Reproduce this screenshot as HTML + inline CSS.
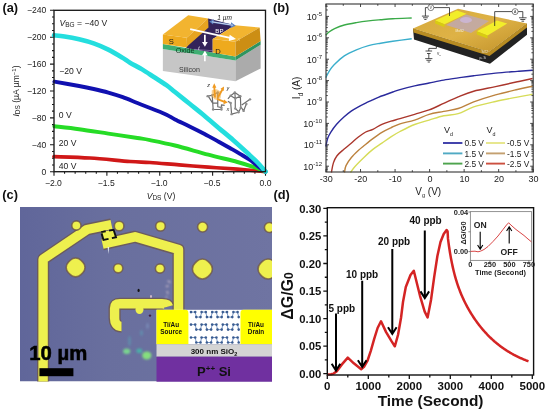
<!DOCTYPE html>
<html><head><meta charset="utf-8"><style>
html,body{margin:0;padding:0;background:#fff;}
body{width:550px;height:412px;overflow:hidden;}
svg{display:block;filter:blur(0.3px);}
text{font-family:"Liberation Sans",Arial,sans-serif;}
.pl{font-size:12.8px;font-weight:bold;fill:#111;}
.ta{font-size:8.6px;fill:#222;}
.tb{font-size:9px;fill:#222;}
.td{font-size:11.3px;font-weight:bold;fill:#111;}
.tbs{font-size:6px;fill:#222;}
.tbl{font-size:10px;fill:#222;}
.td2{font-size:11.5px;font-weight:bold;fill:#111;}
.tdl{font-size:16px;font-weight:bold;fill:#111;}
.tp{font-size:10px;font-weight:bold;fill:#111;}
.ti{font-size:7.4px;font-weight:bold;fill:#222;}
</style></head><body>
<svg width="550" height="412" viewBox="0 0 550 412">
<rect width="550" height="412" fill="#fff"/>
<text x="2.4" y="11.9" class="pl">(a)</text>
<path d="M50.00,171.70H54.00M52.00,164.97H54.00M52.00,158.25H54.00M52.00,151.52H54.00M50.00,144.80H54.00M52.00,138.07H54.00M52.00,131.35H54.00M52.00,124.62H54.00M50.00,117.90H54.00M52.00,111.17H54.00M52.00,104.45H54.00M52.00,97.73H54.00M50.00,91.00H54.00M52.00,84.28H54.00M52.00,77.55H54.00M52.00,70.83H54.00M50.00,64.10H54.00M52.00,57.38H54.00M52.00,50.65H54.00M52.00,43.93H54.00M50.00,37.20H54.00M52.00,30.48H54.00M52.00,23.75H54.00M52.00,17.03H54.00M50.00,10.30H54.00M54.00,171.70V175.70M64.58,171.70V173.70M75.15,171.70V173.70M85.73,171.70V173.70M96.30,171.70V173.70M106.88,171.70V175.70M117.45,171.70V173.70M128.03,171.70V173.70M138.60,171.70V173.70M149.18,171.70V173.70M159.75,171.70V175.70M170.32,171.70V173.70M180.90,171.70V173.70M191.47,171.70V173.70M202.05,171.70V173.70M212.62,171.70V175.70M223.20,171.70V173.70M233.78,171.70V173.70M244.35,171.70V173.70M254.93,171.70V173.70M265.50,171.70V175.70" stroke="#1a1a1a" stroke-width="1.1" fill="none"/>
<path d="M54.00,156.60 C60.00,156.83 77.33,157.18 90.00,158.00 C102.67,158.82 120.00,160.75 130.00,161.50 C140.00,162.25 141.82,161.93 150.00,162.50 C158.18,163.07 169.38,164.12 179.10,164.90 C188.82,165.68 198.58,166.48 208.30,167.20 C218.02,167.92 227.87,168.47 237.40,169.20 C246.93,169.93 260.82,171.20 265.50,171.60" stroke="#d01818" stroke-width="3.7" fill="none" stroke-linecap="round"/>
<path d="M54.40,126.30 C58.52,126.78 70.12,127.98 79.10,129.20 C88.08,130.42 98.58,132.13 108.30,133.60 C118.02,135.07 130.45,136.92 137.40,138.00 C144.35,139.08 143.73,138.85 150.00,140.10 C156.27,141.35 165.28,143.07 175.00,145.50 C184.72,147.93 197.90,151.95 208.30,154.70 C218.70,157.45 229.62,159.87 237.40,162.00 C245.18,164.13 250.32,165.90 255.00,167.50 C259.68,169.10 263.75,170.92 265.50,171.60" stroke="#26dc26" stroke-width="3.9" fill="none" stroke-linecap="round"/>
<path d="M54.40,81.60 C58.52,82.33 72.55,84.77 79.10,86.00 C85.65,87.23 88.83,87.90 93.70,89.00 C98.57,90.10 103.45,91.23 108.30,92.60 C113.15,93.97 117.95,95.47 122.80,97.20 C127.65,98.93 132.53,101.07 137.40,103.00 C142.27,104.93 147.15,106.85 152.00,108.80 C156.85,110.75 162.67,112.92 166.50,114.70 C170.33,116.48 171.15,117.55 175.00,119.50 C178.85,121.45 184.75,124.03 189.60,126.40 C194.45,128.77 199.25,131.15 204.10,133.70 C208.95,136.25 214.33,139.28 218.70,141.70 C223.07,144.12 226.75,146.18 230.30,148.20 C233.85,150.22 236.72,151.83 240.00,153.80 C243.28,155.77 246.57,157.58 250.00,160.00 C253.43,162.42 258.02,166.37 260.60,168.30 C263.18,170.23 264.68,171.05 265.50,171.60" stroke="#1010b0" stroke-width="3.9" fill="none" stroke-linecap="round"/>
<path d="M54.00,35.40 C55.77,35.58 60.42,35.85 64.60,36.50 C68.78,37.15 74.25,38.15 79.10,39.30 C83.95,40.45 88.83,41.68 93.70,43.40 C98.57,45.12 103.45,47.18 108.30,49.60 C113.15,52.02 119.18,55.72 122.80,57.90 C126.42,60.08 126.78,60.78 130.00,62.70 C133.22,64.62 138.05,66.97 142.10,69.40 C146.15,71.83 150.25,74.67 154.30,77.30 C158.35,79.93 162.95,82.75 166.40,85.20 C169.85,87.65 171.13,88.90 175.00,92.00 C178.87,95.10 184.75,99.88 189.60,103.80 C194.45,107.72 199.25,111.48 204.10,115.50 C208.95,119.52 213.83,123.78 218.70,127.90 C223.57,132.02 228.42,135.93 233.30,140.20 C238.18,144.47 243.88,149.70 248.00,153.50 C252.12,157.30 255.08,159.98 258.00,163.00 C260.92,166.02 264.25,170.17 265.50,171.60" stroke="#24dede" stroke-width="4.6" fill="none" stroke-linecap="round"/>
<g transform="translate(160,10) scale(0.19091)">
<path d="M15,204 L395,265 L395,373 L15,320 Z" fill="#c6c6c6"/>
<path d="M395,265 L527,182 L527,306 L395,373 Z" fill="#ababab"/>
<path d="M15,178 L395,243 L395,265 L15,204 Z" fill="#3fae72"/>
<path d="M395,243 L527,163 L527,182 L395,265 Z" fill="#2f9460"/>
<path d="M136,199 L276,223 L276,152 L392,80 L252,44 Z" fill="#33235a"/>
<path d="M15,128 L140,146 L140,197 L15,178 Z" fill="#eeaa1e"/>
<path d="M15,128 L140,146 L252,44 L148,27 Z" fill="#f2b430"/>
<path d="M140,146 L252,44 L254,92 L136,197 Z" fill="#e6a420"/>
<path d="M276,152 L395,166 L395,243 L276,223 Z" fill="#eeaa1e"/>
<path d="M276,152 L395,166 L522,92 L392,80 Z" fill="#f2b430"/>
<path d="M395,166 L522,92 L527,163 L395,243 Z" fill="#cc8e14"/>
<path d="M158,100 L385,150" stroke="#fff" stroke-width="10" fill="none"/>
<path d="M365,130 L398,152 L360,163 Z" fill="#fff"/>
<path d="M235,130 V175" stroke="#fff" stroke-width="9"/><path d="M220,168 L235,192 L250,168 Z" fill="#fff"/>
<path d="M235,268 V232" stroke="#fff" stroke-width="9"/><path d="M220,238 L235,214 L250,238 Z" fill="#fff"/>
<path d="M180,206 L285,214" stroke="#9a8ac0" stroke-width="3"/>
<path d="M272,62 L382,80" stroke="#5b82c4" stroke-width="9" fill="none"/>
<path d="M283,48 L258,60 L278,76 Z M372,64 L397,82 L370,94 Z" fill="#5b82c4"/>
<path d="M272,62 L382,80" stroke="#fff" stroke-width="3.5" fill="none"/>
<text x="300" y="50" font-size="34" font-style="italic" fill="#222">1 µm</text>
<text x="290" y="118" font-size="32" fill="#fff">BP</text>
<text x="405" y="162" font-size="30" font-style="italic" fill="#f0d080">x</text>
<text x="200" y="212" font-size="26" font-style="italic" fill="#fff">t</text>
<text x="46" y="178" font-size="40" fill="#1a1a1a">S</text>
<text x="290" y="232" font-size="40" fill="#1a1a1a">D</text>
<text x="82" y="226" font-size="38" fill="#0e3a20">Oxide</text>
<text x="100" y="325" font-size="37" fill="#3a3a3a">Silicon</text>
</g>
<g transform="translate(203,80) scale(0.09225)">
<path d="M50,175 L100,165 L110,320 L200,320 L200,270 L235,275 M100,165 L160,135 L160,290 L200,300 M60,180 L105,250 L160,250 M270,205 L300,170 L345,135 L405,175 L410,300 L385,350 L310,370 L300,250 L270,230 M300,170 L350,200 L350,310 L390,345 M345,135 L350,200 M405,175 L350,200 M410,290 L440,335 L470,260 M420,270 L510,210" stroke="#6e6e6e" stroke-width="13" fill="none" stroke-linejoin="round"/>
<circle cx="50" cy="175" r="13" fill="#8c8c8c"/><circle cx="100" cy="165" r="13" fill="#8c8c8c"/><circle cx="110" cy="320" r="13" fill="#8c8c8c"/><circle cx="200" cy="320" r="13" fill="#8c8c8c"/><circle cx="160" cy="135" r="13" fill="#8c8c8c"/><circle cx="200" cy="300" r="13" fill="#8c8c8c"/><circle cx="300" cy="170" r="13" fill="#8c8c8c"/><circle cx="345" cy="135" r="13" fill="#8c8c8c"/><circle cx="405" cy="175" r="13" fill="#8c8c8c"/><circle cx="410" cy="300" r="13" fill="#8c8c8c"/><circle cx="385" cy="350" r="13" fill="#8c8c8c"/><circle cx="310" cy="370" r="13" fill="#8c8c8c"/><circle cx="300" cy="250" r="13" fill="#8c8c8c"/><circle cx="350" cy="200" r="13" fill="#8c8c8c"/><circle cx="350" cy="310" r="13" fill="#8c8c8c"/><circle cx="440" cy="335" r="13" fill="#8c8c8c"/><circle cx="510" cy="210" r="13" fill="#8c8c8c"/><circle cx="470" cy="260" r="13" fill="#8c8c8c"/>
<path d="M95,110 L150,100 L200,130 L190,200 L130,215 L95,180 Z" fill="#f0a838" opacity="0.55"/>
<path d="M130,190 L122,70 M160,190 L212,100 M150,205 L240,240" stroke="#f09a20" stroke-width="20" fill="none"/>
<path d="M100,85 L122,35 L145,85 Z M190,95 L228,70 L225,118 Z M228,212 L268,244 L222,262 Z" fill="#f09a20"/>
<text x="45" y="75" font-size="60" font-style="italic" fill="#333">z</text>
<text x="255" y="105" font-size="60" font-style="italic" fill="#333">y</text>
<text x="255" y="335" font-size="60" font-style="italic" fill="#333">x</text>
</g>
<rect x="54.00" y="10.30" width="211.50" height="161.40" fill="none" stroke="#1a1a1a" stroke-width="1.35"/>
<text x="46.3" y="174.70" class="ta" text-anchor="end">0</text>
<text x="46.3" y="147.80" class="ta" text-anchor="end">−40</text>
<text x="46.3" y="120.90" class="ta" text-anchor="end">−80</text>
<text x="46.3" y="94.00" class="ta" text-anchor="end">−120</text>
<text x="46.3" y="67.10" class="ta" text-anchor="end">−160</text>
<text x="46.3" y="40.20" class="ta" text-anchor="end">−200</text>
<text x="46.3" y="13.30" class="ta" text-anchor="end">−240</text>
<text x="53.40" y="185.8" class="ta" text-anchor="middle">−2.0</text>
<text x="106.28" y="185.8" class="ta" text-anchor="middle">−1.5</text>
<text x="159.15" y="185.8" class="ta" text-anchor="middle">−1.0</text>
<text x="212.03" y="185.8" class="ta" text-anchor="middle">−0.5</text>
<text x="265.50" y="185.8" class="ta" text-anchor="middle">0.0</text>
<text x="161" y="198.7" class="ta" text-anchor="middle"><tspan font-style="italic">V</tspan><tspan font-size="6.5" dy="1.6">DS</tspan><tspan dy="-1.6"> (V)</tspan></text>
<text transform="translate(18.6,91) rotate(-90)" class="ta" text-anchor="middle"><tspan font-style="italic">I</tspan><tspan font-size="6.5" dy="1.6">DS</tspan><tspan dy="-1.6"> (µA µm</tspan><tspan font-size="6" dy="-3">−1</tspan><tspan dy="3">)</tspan></text>
<text x="59.5" y="25.6" class="ta"><tspan font-style="italic">V</tspan><tspan font-size="6.5" dy="1.6">BG</tspan><tspan dy="-1.6"> = −40 V</tspan></text>
<text x="59.2" y="74" class="ta">−20 V</text>
<text x="58.8" y="117.7" class="ta">0 V</text>
<text x="58.8" y="146" class="ta">20 V</text>
<text x="58.8" y="168.7" class="ta">40 V</text>
<text x="273" y="11.9" class="pl">(b)</text>
<path d="M326.00,170.95h1.80M533.20,170.95h-1.80M326.00,169.51h1.80M533.20,169.51h-1.80M326.00,168.27h1.80M533.20,168.27h-1.80M326.00,167.18h1.80M533.20,167.18h-1.80M326.00,166.20h3.00M533.20,166.20h-3.00M326.00,159.76h1.80M533.20,159.76h-1.80M326.00,155.99h1.80M533.20,155.99h-1.80M326.00,153.32h1.80M533.20,153.32h-1.80M326.00,151.24h1.80M533.20,151.24h-1.80M326.00,149.55h1.80M533.20,149.55h-1.80M326.00,148.11h1.80M533.20,148.11h-1.80M326.00,146.87h1.80M533.20,146.87h-1.80M326.00,145.78h1.80M533.20,145.78h-1.80M326.00,144.80h3.00M533.20,144.80h-3.00M326.00,138.36h1.80M533.20,138.36h-1.80M326.00,134.59h1.80M533.20,134.59h-1.80M326.00,131.92h1.80M533.20,131.92h-1.80M326.00,129.84h1.80M533.20,129.84h-1.80M326.00,128.15h1.80M533.20,128.15h-1.80M326.00,126.71h1.80M533.20,126.71h-1.80M326.00,125.47h1.80M533.20,125.47h-1.80M326.00,124.38h1.80M533.20,124.38h-1.80M326.00,123.40h3.00M533.20,123.40h-3.00M326.00,116.96h1.80M533.20,116.96h-1.80M326.00,113.19h1.80M533.20,113.19h-1.80M326.00,110.52h1.80M533.20,110.52h-1.80M326.00,108.44h1.80M533.20,108.44h-1.80M326.00,106.75h1.80M533.20,106.75h-1.80M326.00,105.31h1.80M533.20,105.31h-1.80M326.00,104.07h1.80M533.20,104.07h-1.80M326.00,102.98h1.80M533.20,102.98h-1.80M326.00,102.00h3.00M533.20,102.00h-3.00M326.00,95.56h1.80M533.20,95.56h-1.80M326.00,91.79h1.80M533.20,91.79h-1.80M326.00,89.12h1.80M533.20,89.12h-1.80M326.00,87.04h1.80M533.20,87.04h-1.80M326.00,85.35h1.80M533.20,85.35h-1.80M326.00,83.91h1.80M533.20,83.91h-1.80M326.00,82.67h1.80M533.20,82.67h-1.80M326.00,81.58h1.80M533.20,81.58h-1.80M326.00,80.60h3.00M533.20,80.60h-3.00M326.00,74.16h1.80M533.20,74.16h-1.80M326.00,70.39h1.80M533.20,70.39h-1.80M326.00,67.72h1.80M533.20,67.72h-1.80M326.00,65.64h1.80M533.20,65.64h-1.80M326.00,63.95h1.80M533.20,63.95h-1.80M326.00,62.51h1.80M533.20,62.51h-1.80M326.00,61.27h1.80M533.20,61.27h-1.80M326.00,60.18h1.80M533.20,60.18h-1.80M326.00,59.20h3.00M533.20,59.20h-3.00M326.00,52.76h1.80M533.20,52.76h-1.80M326.00,48.99h1.80M533.20,48.99h-1.80M326.00,46.32h1.80M533.20,46.32h-1.80M326.00,44.24h1.80M533.20,44.24h-1.80M326.00,42.55h1.80M533.20,42.55h-1.80M326.00,41.11h1.80M533.20,41.11h-1.80M326.00,39.87h1.80M533.20,39.87h-1.80M326.00,38.78h1.80M533.20,38.78h-1.80M326.00,37.80h3.00M533.20,37.80h-3.00M326.00,31.36h1.80M533.20,31.36h-1.80M326.00,27.59h1.80M533.20,27.59h-1.80M326.00,24.92h1.80M533.20,24.92h-1.80M326.00,22.84h1.80M533.20,22.84h-1.80M326.00,21.15h1.80M533.20,21.15h-1.80M326.00,19.71h1.80M533.20,19.71h-1.80M326.00,18.47h1.80M533.20,18.47h-1.80M326.00,17.38h1.80M533.20,17.38h-1.80M326.00,16.40h3.00M533.20,16.40h-3.00M326.00,9.96h1.80M533.20,9.96h-1.80M326.00,6.19h1.80M533.20,6.19h-1.80M326.00,172.00v-3.00M326.00,4.00v3.00M343.27,172.00v-1.80M343.27,4.00v1.80M360.53,172.00v-3.00M360.53,4.00v3.00M377.80,172.00v-1.80M377.80,4.00v1.80M395.07,172.00v-3.00M395.07,4.00v3.00M412.33,172.00v-1.80M412.33,4.00v1.80M429.60,172.00v-3.00M429.60,4.00v3.00M446.87,172.00v-1.80M446.87,4.00v1.80M464.13,172.00v-3.00M464.13,4.00v3.00M481.40,172.00v-1.80M481.40,4.00v1.80M498.67,172.00v-3.00M498.67,4.00v3.00M515.93,172.00v-1.80M515.93,4.00v1.80M533.20,172.00v-3.00M533.20,4.00v3.00" stroke="#333" stroke-width="0.9" fill="none"/>
<path d="M350.50,172.50 C351.25,171.50 352.77,169.00 355.00,166.50 C357.23,164.00 360.92,160.35 363.90,157.50 C366.88,154.65 369.90,151.80 372.90,149.40 C375.90,147.00 378.90,145.20 381.90,143.10 C384.90,141.00 387.88,138.73 390.90,136.80 C393.92,134.87 396.05,133.55 400.00,131.50 C403.95,129.45 409.75,126.40 414.60,124.50 C419.45,122.60 424.25,121.55 429.10,120.10 C433.95,118.65 438.85,116.88 443.70,115.80 C448.55,114.72 453.20,115.08 458.20,113.60 C463.20,112.12 467.48,108.92 473.70,106.90 C479.92,104.88 488.23,103.13 495.50,101.50 C502.77,99.87 511.12,98.30 517.30,97.10 C523.48,95.90 530.05,94.77 532.60,94.30" stroke="#d6dc58" stroke-width="1.4" fill="none"/>
<path d="M344.50,172.50 C344.75,171.35 344.85,168.10 346.00,165.60 C347.15,163.10 349.32,160.05 351.40,157.50 C353.48,154.95 356.42,152.25 358.50,150.30 C360.58,148.35 361.50,147.75 363.90,145.80 C366.30,143.85 369.90,140.85 372.90,138.60 C375.90,136.35 378.90,134.10 381.90,132.30 C384.90,130.50 387.88,129.22 390.90,127.80 C393.92,126.38 396.05,125.08 400.00,123.80 C403.95,122.52 409.75,121.68 414.60,120.10 C419.45,118.52 424.25,115.75 429.10,114.30 C433.95,112.85 438.85,112.37 443.70,111.40 C448.55,110.43 453.20,110.08 458.20,108.50 C463.20,106.92 467.48,104.17 473.70,101.90 C479.92,99.63 488.23,96.97 495.50,94.90 C502.77,92.83 511.12,90.95 517.30,89.50 C523.48,88.05 530.05,86.75 532.60,86.20" stroke="#bc823e" stroke-width="1.4" fill="none"/>
<path d="M331.40,172.50 C331.73,170.90 332.47,165.70 333.40,162.90 C334.33,160.10 335.25,157.97 337.00,155.70 C338.75,153.43 341.53,151.38 343.90,149.30 C346.27,147.22 348.78,145.25 351.20,143.20 C353.62,141.15 355.98,138.87 358.40,137.00 C360.82,135.13 363.28,133.28 365.70,132.00 C368.12,130.72 370.20,130.58 372.90,129.30 C375.60,128.02 378.90,125.65 381.90,124.30 C384.90,122.95 387.88,122.13 390.90,121.20 C393.92,120.27 396.05,119.85 400.00,118.70 C403.95,117.55 409.75,115.77 414.60,114.30 C419.45,112.83 424.25,111.72 429.10,109.90 C433.95,108.08 438.85,105.58 443.70,103.40 C448.55,101.22 453.20,98.83 458.20,96.80 C463.20,94.77 467.48,92.90 473.70,91.20 C479.92,89.50 488.23,88.17 495.50,86.60 C502.77,85.03 511.12,83.15 517.30,81.80 C523.48,80.45 530.05,79.05 532.60,78.50" stroke="#aa362c" stroke-width="1.4" fill="none"/>
<path d="M325.80,146.50 C326.13,145.10 326.98,140.47 327.80,138.10 C328.62,135.73 329.23,134.60 330.70,132.30 C332.17,130.00 334.40,126.85 336.60,124.30 C338.80,121.75 341.47,119.20 343.90,117.00 C346.33,114.80 348.78,112.80 351.20,111.10 C353.62,109.40 355.98,108.13 358.40,106.80 C360.82,105.47 363.43,104.20 365.70,103.10 C367.97,102.00 369.90,101.17 372.00,100.20 C374.10,99.23 374.83,98.67 378.30,97.30 C381.77,95.93 389.18,93.28 392.80,92.00 C396.42,90.72 396.37,90.62 400.00,89.60 C403.63,88.58 409.75,87.00 414.60,85.90 C419.45,84.80 424.25,83.97 429.10,83.00 C433.95,82.03 438.85,80.95 443.70,80.10 C448.55,79.25 453.20,78.63 458.20,77.90 C463.20,77.17 467.48,76.50 473.70,75.70 C479.92,74.90 488.23,73.82 495.50,73.10 C502.77,72.38 511.12,71.87 517.30,71.40 C523.48,70.93 530.05,70.48 532.60,70.30" stroke="#2a2a9c" stroke-width="1.4" fill="none"/>
<path d="M325.80,77.70 C326.45,76.48 328.23,72.63 329.70,70.40 C331.17,68.17 332.17,66.73 334.60,64.30 C337.03,61.87 340.67,58.22 344.30,55.80 C347.93,53.38 352.37,51.50 356.40,49.80 C360.43,48.10 364.45,46.70 368.50,45.60 C372.55,44.50 376.65,43.92 380.70,43.20 C384.75,42.48 387.63,42.03 392.80,41.30 C397.97,40.57 408.55,39.22 411.70,38.80" stroke="#3aaecc" stroke-width="1.4" fill="none"/>
<path d="M325.80,35.20 C326.33,34.67 327.53,33.10 329.00,32.00 C330.47,30.90 332.05,29.77 334.60,28.60 C337.15,27.43 340.67,26.00 344.30,25.00 C347.93,24.00 352.37,23.28 356.40,22.60 C360.43,21.92 364.45,21.38 368.50,20.90 C372.55,20.42 376.65,20.07 380.70,19.70 C384.75,19.33 387.63,18.98 392.80,18.70 C397.97,18.42 408.55,18.12 411.70,18.00" stroke="#3aaa48" stroke-width="1.4" fill="none"/>
<rect x="326.00" y="4.00" width="207.20" height="168.00" fill="none" stroke="#333" stroke-width="1.1"/>
<text x="322" y="169.50" class="tb" text-anchor="end">10<tspan class="tbs" dy="-3.9">-12</tspan></text>
<text x="322" y="148.10" class="tb" text-anchor="end">10<tspan class="tbs" dy="-3.9">-11</tspan></text>
<text x="322" y="126.70" class="tb" text-anchor="end">10<tspan class="tbs" dy="-3.9">-10</tspan></text>
<text x="322" y="105.30" class="tb" text-anchor="end">10<tspan class="tbs" dy="-3.9">-9</tspan></text>
<text x="322" y="83.90" class="tb" text-anchor="end">10<tspan class="tbs" dy="-3.9">-8</tspan></text>
<text x="322" y="62.50" class="tb" text-anchor="end">10<tspan class="tbs" dy="-3.9">-7</tspan></text>
<text x="322" y="41.10" class="tb" text-anchor="end">10<tspan class="tbs" dy="-3.9">-6</tspan></text>
<text x="322" y="19.70" class="tb" text-anchor="end">10<tspan class="tbs" dy="-3.9">-5</tspan></text>
<text x="326.30" y="181.8" class="tb" text-anchor="middle">-30</text>
<text x="360.83" y="181.8" class="tb" text-anchor="middle">-20</text>
<text x="395.37" y="181.8" class="tb" text-anchor="middle">-10</text>
<text x="429.90" y="181.8" class="tb" text-anchor="middle">0</text>
<text x="464.43" y="181.8" class="tb" text-anchor="middle">10</text>
<text x="498.97" y="181.8" class="tb" text-anchor="middle">20</text>
<text x="533.50" y="181.8" class="tb" text-anchor="middle">30</text>
<text x="415.3" y="194.6" class="tbl">V<tspan font-size="5.6" dy="2.6">g</tspan><tspan dy="-2.6"> (V)</tspan></text>
<text transform="translate(300,87.9) rotate(-90)" class="tbl" text-anchor="middle">I<tspan font-size="6.5" dy="2.5">d</tspan><tspan dy="-2.5"> (A)</tspan></text>
<text x="444" y="133" class="tb">V<tspan font-size="5.3" dy="2.8">d</tspan></text>
<text x="486.4" y="133" class="tb">V<tspan font-size="5.3" dy="2.8">d</tspan></text>
<path d="M443,143.0H462.4" stroke="#3a3aa8" stroke-width="1.9"/>
<text x="464.4" y="146.1" class="tb" style="font-size:8.4px">0.5 V</text>
<path d="M486,143.0H505" stroke="#e6e68a" stroke-width="1.9"/>
<text x="507" y="146.1" class="tb" style="font-size:8.4px">-0.5 V</text>
<path d="M443,153.4H462.4" stroke="#50aac4" stroke-width="1.9"/>
<text x="464.4" y="156.5" class="tb" style="font-size:8.4px">1.5 V</text>
<path d="M486,153.4H505" stroke="#c4a070" stroke-width="1.9"/>
<text x="507" y="156.5" class="tb" style="font-size:8.4px">-1.5 V</text>
<path d="M443,163.6H462.4" stroke="#4ea44e" stroke-width="1.9"/>
<text x="464.4" y="166.7" class="tb" style="font-size:8.4px">2.5 V</text>
<path d="M486,163.6H505" stroke="#cc5040" stroke-width="1.9"/>
<text x="507" y="166.7" class="tb" style="font-size:8.4px">-2.5 V</text>
<defs><linearGradient id="gtop" x1="0" y1="0" x2="1" y2="1"><stop offset="0" stop-color="#d6aa3c"/><stop offset="0.5" stop-color="#deb246"/><stop offset="1" stop-color="#c09028"/></linearGradient><linearGradient id="gside" x1="0" y1="0" x2="0" y2="1"><stop offset="0" stop-color="#3a3a3a"/><stop offset="1" stop-color="#151515"/></linearGradient></defs>
<path d="M413,28.5 L489,52 L527,23.5 L527,34.8 L490,63.8 L414,39.5 Z" fill="#222"/>
<path d="M413,28.5 L489,52 L527,23.5 L527,27.5 L489.5,56 L413.5,32.5 Z" fill="#b88c22"/>
<path d="M413,28.5 L458,8.8 L527,23.5 L489,52 Z" fill="url(#gtop)"/>
<path d="M446,25 L466,14.5 L489,21 L471,33 Z" fill="#b9a6c6" opacity="0.7"/>
<ellipse cx="466" cy="20" rx="6" ry="3" fill="#cdb8dc" opacity="0.8"/>
<path d="M435.2,20.6 L457,10.6 L466.5,13.8 L444.5,24.2 Z" fill="#f2ee2a"/>
<path d="M435.2,20.6 L444.5,24.2 L444.5,27.2 L435.2,23.4 Z" fill="#d8cc10"/>
<path d="M476.8,31.2 L497,20.6 L507.2,23.6 L487.5,35.4 Z" fill="#f2ee2a"/>
<path d="M476.8,31.2 L487.5,35.4 L487.5,38.6 L476.8,34.4 Z" fill="#d8cc10"/>
<text x="455.5" y="31.5" font-size="3.2" fill="#f4f0e0">MoS2</text>
<text x="481.5" y="52.5" font-size="2.8" fill="#f4f0e0">SiO2</text>
<text x="479.5" y="58.5" font-size="2.8" fill="#e0e0e0">p+ Si</text>
<path d="M433.8,7.6H449.5V16 M427.8,7.6H425.4V16.1 M421.9,16.1h7 M423,17.8h4.8 M424.3,19.5h2.2 M512.1,11.6H494.7V26 M518.1,11.6H522.8V17.8 M519,17.8h7.6 M520.3,19.5h5 M521.5,21.2h2.6 M436.4,46 V48.4 H428.8 V51 M425.5,51 h6.6 M427,53.5h3.6 M428.8,53.5V58.6 M425.2,58.6h7.2 M426.4,60.3h4.8 M427.7,62h2.2" stroke="#222" stroke-width="0.8" fill="none"/>
<circle cx="430.8" cy="7.6" r="3" fill="#fff" stroke="#333" stroke-width="0.6"/>
<circle cx="515.1" cy="11.6" r="3" fill="#fff" stroke="#333" stroke-width="0.6"/>
<text x="430.8" y="8.7" font-size="3.2" text-anchor="middle" fill="#222">V</text>
<text x="515.1" y="12.8" font-size="3.4" text-anchor="middle" fill="#222">A</text>
<text x="437" y="55" font-size="3.4" fill="#222">V<tspan font-size="2.4" dy="0.8">g</tspan></text>
<text x="2.3" y="199.2" class="pl">(c)</text>
<defs><clipPath id="cph"><rect x="20" y="207" width="252" height="174.5"/></clipPath></defs>
<g clip-path="url(#cph)">
<linearGradient id="pbg" x1="20" y1="0" x2="272" y2="0" gradientUnits="userSpaceOnUse"><stop offset="0" stop-color="#60669a"/><stop offset="0.35" stop-color="#696f9e"/><stop offset="1" stop-color="#6f74a2"/></linearGradient>
<rect x="20" y="207" width="252" height="174.5" fill="url(#pbg)"/>
<path d="M43.1,390 L43.1,259.2 L87,229.5 L111.5,224.5" stroke="#6e5648" stroke-width="12.2" fill="none" stroke-linejoin="round" opacity="0.75"/>
<path d="M102.5,244.2 L135,236.8 L178.5,249.6 L178.5,312" stroke="#6e5648" stroke-width="12.2" fill="none" stroke-linejoin="round" opacity="0.75"/>
<path d="M121.5,326.5 C116,326.5 114.6,322 114.6,318 L114.6,308.5 C114.6,305 116.5,303.8 120,303.8 L162,303.8 C166,303.8 168,305 168.4,306.5" stroke="#6e5648" stroke-width="12.2" fill="none" stroke-linejoin="round" opacity="0.75"/>
<path d="M43.1,390 L43.1,259.2 L87,229.5 L111.5,224.5" stroke="#eef04e" stroke-width="9.4" fill="none" stroke-linejoin="round"/>
<path d="M102.5,244.2 L135,236.8 L178.5,249.6 L178.5,312" stroke="#eef04e" stroke-width="9.4" fill="none" stroke-linejoin="round"/>
<path d="M121.5,326.5 C116,326.5 114.6,322 114.6,318 L114.6,308.5 C114.6,305 116.5,303.8 120,303.8 L162,303.8 C166,303.8 168,305 168.4,306.5" stroke="#eef04e" stroke-width="9.4" fill="none" stroke-linejoin="round"/>
<ellipse cx="139.5" cy="309.5" rx="4" ry="4.5" fill="#eef04e"/>
<circle cx="76.4" cy="225.5" r="4.6" fill="#eef04e" stroke="#6e5648" stroke-width="1.6" stroke-opacity="0.8"/>
<circle cx="119.1" cy="226.0" r="4.8" fill="#eef04e" stroke="#6e5648" stroke-width="1.6" stroke-opacity="0.8"/>
<circle cx="160.5" cy="226.2" r="4.8" fill="#eef04e" stroke="#6e5648" stroke-width="1.6" stroke-opacity="0.8"/>
<circle cx="202.6" cy="227.0" r="5.0" fill="#eef04e" stroke="#6e5648" stroke-width="1.6" stroke-opacity="0.8"/>
<circle cx="269.4" cy="227.5" r="5.0" fill="#eef04e" stroke="#6e5648" stroke-width="1.6" stroke-opacity="0.8"/>
<circle cx="118.2" cy="268.3" r="4.6" fill="#eef04e" stroke="#6e5648" stroke-width="1.6" stroke-opacity="0.8"/>
<circle cx="160.0" cy="268.5" r="4.6" fill="#eef04e" stroke="#6e5648" stroke-width="1.6" stroke-opacity="0.8"/>
<rect x="66.8" y="258.6" width="17.7" height="17.7" rx="7.5" transform="rotate(45 75.6 267.4)" fill="#eef04e" stroke="#6e5648" stroke-width="1.6" stroke-opacity="0.8"/>
<rect x="193.0" y="259.6" width="18.8" height="18.8" rx="8.0" transform="rotate(45 202.4 269.0)" fill="#eef04e" stroke="#6e5648" stroke-width="1.6" stroke-opacity="0.8"/>
<rect x="258.6" y="259.6" width="18.8" height="18.8" rx="8.0" transform="rotate(45 268.0 269.0)" fill="#eef04e" stroke="#6e5648" stroke-width="1.6" stroke-opacity="0.8"/>
<path d="M101.2,232.1 L113.6,229.8 L116,237.2 L103.5,239.9 Z" fill="#eef04e"/>
<path d="M101.2,232.1 L113.6,229.8 L116,237.2 L103.5,239.9 Z" fill="none" stroke="#111" stroke-width="1.9" stroke-dasharray="4.6 3.4 16.6 3.4 12" stroke-linejoin="miter"/>
<path d="M107.6,247 L108.4,254 L109.2,247 Z" fill="#e8f0f8" opacity="0.9"/>
<filter id="fb" x="-50%" y="-50%" width="200%" height="200%"><feGaussianBlur stdDeviation="0.9"/></filter>
<g filter="url(#fb)">
<ellipse cx="126.7" cy="351.3" rx="3.6" ry="2.8" fill="#7ad88e" opacity="0.95"/>
<ellipse cx="139.3" cy="350.8" rx="3.0" ry="2.4" fill="#48b4a8" opacity="0.90"/>
<ellipse cx="146.8" cy="355.4" rx="4.6" ry="4.0" fill="#86e47c" opacity="0.95"/>
<ellipse cx="129.5" cy="341.0" rx="1.2" ry="5.0" fill="#5aa8b8" opacity="0.55"/>
<ellipse cx="141.5" cy="333.0" rx="1.3" ry="3.0" fill="#5ab0c0" opacity="0.50"/>
<ellipse cx="147.5" cy="326.0" rx="1.0" ry="3.0" fill="#88a8d0" opacity="0.60"/>
</g>
<ellipse cx="138.6" cy="290.4" rx="1.1" ry="1.7" fill="#111"/>
<g filter="url(#fb)" opacity="0.75"><path d="M167.5,281.5 q2,-1 2.5,1.5 M166,286.5 l2.5,-0.5 M167,291 l1,3 M165.8,297 l1.5,0.2" stroke="#e6d2d8" stroke-width="1.3" fill="none"/></g>
<ellipse cx="151" cy="296.5" rx="0.9" ry="1.4" fill="#f0d0d8" opacity="0.8"/>
<circle cx="150" cy="315.6" r="1.2" fill="#402040"/>
</g>
<rect x="39.4" y="368.2" width="34" height="8" fill="#000"/>
<text x="29.3" y="359.8" font-size="19.6" font-weight="bold" fill="#000" stroke="#000" stroke-width="0.5" textLength="58" lengthAdjust="spacingAndGlyphs">10 µm</text>
<rect x="156.5" y="309.8" width="115.5" height="34.5" fill="#fff"/>
<path d="M156.5,309.8 H185.5 Q188.4,309.8 188.4,313 V344.3 H156.5 Z" fill="#ffff00"/>
<path d="M272,309.8 H243.4 Q240.5,309.8 240.5,313 V344.3 H272 Z" fill="#ffff00"/>
<rect x="156.5" y="344.3" width="115.5" height="12.4" fill="#d4d4d4"/>
<rect x="156.5" y="356.7" width="115.5" height="25" fill="#7030a0"/>
<path d="M191.00,312.10 L195.20,312.10 L196.30,317.10 L200.50,317.10 L201.60,312.10 L205.80,312.10 L206.90,317.10 L211.10,317.10 L212.20,312.10 L216.40,312.10 L217.50,317.10 L221.70,317.10 L222.80,312.10 L227.00,312.10 L228.10,317.10 L232.30,317.10 L233.40,312.10 L237.60,312.10 L238.70,317.10 M191.00,324.60 L195.20,324.60 L196.30,329.60 L200.50,329.60 L201.60,324.60 L205.80,324.60 L206.90,329.60 L211.10,329.60 L212.20,324.60 L216.40,324.60 L217.50,329.60 L221.70,329.60 L222.80,324.60 L227.00,324.60 L228.10,329.60 L232.30,329.60 L233.40,324.60 L237.60,324.60 L238.70,329.60 M191.00,337.50 L195.20,337.50 L196.30,342.50 L200.50,342.50 L201.60,337.50 L205.80,337.50 L206.90,342.50 L211.10,342.50 L212.20,337.50 L216.40,337.50 L217.50,342.50 L221.70,342.50 L222.80,337.50 L227.00,337.50 L228.10,342.50 L232.30,342.50 L233.40,337.50 L237.60,337.50 L238.70,342.50" stroke="#6a8cc0" stroke-width="0.9" fill="none"/>
<circle cx="191.0" cy="312.1" r="1.3" fill="#3a5c90"/><circle cx="195.2" cy="312.1" r="1.3" fill="#3a5c90"/><circle cx="196.3" cy="317.1" r="1.3" fill="#3a5c90"/><circle cx="200.5" cy="317.1" r="1.3" fill="#3a5c90"/><circle cx="201.6" cy="312.1" r="1.3" fill="#3a5c90"/><circle cx="205.8" cy="312.1" r="1.3" fill="#3a5c90"/><circle cx="206.9" cy="317.1" r="1.3" fill="#3a5c90"/><circle cx="211.1" cy="317.1" r="1.3" fill="#3a5c90"/><circle cx="212.2" cy="312.1" r="1.3" fill="#3a5c90"/><circle cx="216.4" cy="312.1" r="1.3" fill="#3a5c90"/><circle cx="217.5" cy="317.1" r="1.3" fill="#3a5c90"/><circle cx="221.7" cy="317.1" r="1.3" fill="#3a5c90"/><circle cx="222.8" cy="312.1" r="1.3" fill="#3a5c90"/><circle cx="227.0" cy="312.1" r="1.3" fill="#3a5c90"/><circle cx="228.1" cy="317.1" r="1.3" fill="#3a5c90"/><circle cx="232.3" cy="317.1" r="1.3" fill="#3a5c90"/><circle cx="233.4" cy="312.1" r="1.3" fill="#3a5c90"/><circle cx="237.6" cy="312.1" r="1.3" fill="#3a5c90"/><circle cx="238.7" cy="317.1" r="1.3" fill="#3a5c90"/><circle cx="191.0" cy="324.6" r="1.3" fill="#3a5c90"/><circle cx="195.2" cy="324.6" r="1.3" fill="#3a5c90"/><circle cx="196.3" cy="329.6" r="1.3" fill="#3a5c90"/><circle cx="200.5" cy="329.6" r="1.3" fill="#3a5c90"/><circle cx="201.6" cy="324.6" r="1.3" fill="#3a5c90"/><circle cx="205.8" cy="324.6" r="1.3" fill="#3a5c90"/><circle cx="206.9" cy="329.6" r="1.3" fill="#3a5c90"/><circle cx="211.1" cy="329.6" r="1.3" fill="#3a5c90"/><circle cx="212.2" cy="324.6" r="1.3" fill="#3a5c90"/><circle cx="216.4" cy="324.6" r="1.3" fill="#3a5c90"/><circle cx="217.5" cy="329.6" r="1.3" fill="#3a5c90"/><circle cx="221.7" cy="329.6" r="1.3" fill="#3a5c90"/><circle cx="222.8" cy="324.6" r="1.3" fill="#3a5c90"/><circle cx="227.0" cy="324.6" r="1.3" fill="#3a5c90"/><circle cx="228.1" cy="329.6" r="1.3" fill="#3a5c90"/><circle cx="232.3" cy="329.6" r="1.3" fill="#3a5c90"/><circle cx="233.4" cy="324.6" r="1.3" fill="#3a5c90"/><circle cx="237.6" cy="324.6" r="1.3" fill="#3a5c90"/><circle cx="238.7" cy="329.6" r="1.3" fill="#3a5c90"/><circle cx="191.0" cy="337.5" r="1.3" fill="#3a5c90"/><circle cx="195.2" cy="337.5" r="1.3" fill="#3a5c90"/><circle cx="196.3" cy="342.5" r="1.3" fill="#3a5c90"/><circle cx="200.5" cy="342.5" r="1.3" fill="#3a5c90"/><circle cx="201.6" cy="337.5" r="1.3" fill="#3a5c90"/><circle cx="205.8" cy="337.5" r="1.3" fill="#3a5c90"/><circle cx="206.9" cy="342.5" r="1.3" fill="#3a5c90"/><circle cx="211.1" cy="342.5" r="1.3" fill="#3a5c90"/><circle cx="212.2" cy="337.5" r="1.3" fill="#3a5c90"/><circle cx="216.4" cy="337.5" r="1.3" fill="#3a5c90"/><circle cx="217.5" cy="342.5" r="1.3" fill="#3a5c90"/><circle cx="221.7" cy="342.5" r="1.3" fill="#3a5c90"/><circle cx="222.8" cy="337.5" r="1.3" fill="#3a5c90"/><circle cx="227.0" cy="337.5" r="1.3" fill="#3a5c90"/><circle cx="228.1" cy="342.5" r="1.3" fill="#3a5c90"/><circle cx="232.3" cy="342.5" r="1.3" fill="#3a5c90"/><circle cx="233.4" cy="337.5" r="1.3" fill="#3a5c90"/><circle cx="237.6" cy="337.5" r="1.3" fill="#3a5c90"/><circle cx="238.7" cy="342.5" r="1.3" fill="#3a5c90"/>
<text x="171.2" y="326.7" font-size="6.4" font-weight="bold" text-anchor="middle" fill="#111">Ti/Au</text>
<text x="171.2" y="334.4" font-size="6.4" font-weight="bold" text-anchor="middle" fill="#111">Source</text>
<text x="256" y="326.7" font-size="6.4" font-weight="bold" text-anchor="middle" fill="#111">Ti/Au</text>
<text x="256" y="334.4" font-size="6.4" font-weight="bold" text-anchor="middle" fill="#111">Drain</text>
<text x="214" y="353.8" font-size="8" font-weight="bold" text-anchor="middle" fill="#111">300 nm SiO<tspan font-size="5.5" dy="1.8">2</tspan></text>
<text x="214" y="375.5" font-size="13" font-weight="bold" text-anchor="middle" fill="#111">P<tspan font-size="8" dy="-5">++</tspan><tspan dy="5"> Si</tspan></text>
<text x="273.4" y="199.1" class="pl">(d)</text>
<path d="M323.30,373.70H327.30M324.80,359.93H327.30M323.30,346.15H327.30M324.80,332.38H327.30M323.30,318.60H327.30M324.80,304.82H327.30M323.30,291.05H327.30M324.80,277.27H327.30M323.30,263.50H327.30M324.80,249.72H327.30M323.30,235.95H327.30M324.80,222.17H327.30M323.30,208.40H327.30M327.30,375.00V379.00M347.80,375.00V377.50M368.30,375.00V379.00M388.80,375.00V377.50M409.30,375.00V379.00M429.80,375.00V377.50M450.30,375.00V379.00M470.80,375.00V377.50M491.30,375.00V379.00M511.80,375.00V377.50M532.30,375.00V379.00" stroke="#111" stroke-width="1.3" fill="none"/>
<path d="M327.30,374.40 L331.00,374.30 L333.60,373.60 L336.80,371.20 L341.90,364.40 L347.80,357.60 L353.80,363.30 L361.20,369.20 L364.00,366.90 L367.40,361.00 L370.80,350.80 L374.20,338.90 L377.60,328.00 L381.00,321.30 L386.10,332.10 L391.20,340.60 L394.80,346.30 L398.00,335.00 L401.00,318.00 L403.00,302.00 L405.80,287.00 L410.50,275.00 L413.80,270.80 L420.00,295.80 L424.70,311.60 L427.60,317.50 L431.00,300.00 L434.20,276.80 L437.40,256.00 L440.50,242.00 L443.70,234.00 L446.60,230.00 L447.60,231.50 L448.00,238.91 L448.50,242.69 L449.00,246.23 L449.50,249.56 L450.00,252.69 L450.50,255.63 L451.00,258.41 L451.50,261.03 L452.00,263.52 L452.50,265.88 L453.00,268.12 L453.50,270.25 L454.00,272.28 L454.50,274.22 L455.00,276.08 L455.50,277.86 L456.00,279.57 L456.50,281.21 L457.00,282.79 L457.50,284.31 L458.00,285.79 L458.50,287.21 L459.00,288.59 L459.50,289.92 L460.00,291.22 L460.50,292.48 L461.00,293.71 L461.50,294.90 L462.00,296.06 L462.50,297.20 L463.00,298.31 L463.50,299.39 L464.00,300.45 L464.50,301.48 L465.00,302.50 L465.50,303.49 L466.00,304.47 L466.50,305.42 L467.00,306.36 L467.50,307.28 L468.00,308.19 L468.50,309.08 L469.00,309.95 L469.50,310.81 L470.00,311.66 L470.50,312.49 L471.00,313.31 L471.50,314.11 L472.00,314.91 L472.50,315.69 L473.00,316.46 L473.50,317.22 L474.00,317.97 L474.50,318.71 L475.00,319.44 L475.50,320.15 L476.00,320.86 L476.50,321.56 L477.00,322.25 L477.50,322.92 L478.00,323.59 L478.50,324.25 L479.00,324.91 L479.50,325.55 L480.00,326.18 L480.50,326.81 L481.00,327.43 L481.50,328.04 L482.00,328.64 L482.50,329.24 L483.00,329.82 L483.50,330.40 L484.00,330.97 L484.50,331.54 L485.00,332.09 L485.50,332.64 L486.00,333.19 L486.50,333.72 L487.00,334.25 L487.50,334.77 L488.00,335.29 L488.50,335.80 L489.00,336.30 L489.50,336.80 L490.00,337.29 L490.50,337.77 L491.00,338.25 L491.50,338.72 L492.00,339.19 L492.50,339.65 L493.00,340.10 L493.50,340.55 L494.00,341.00 L494.50,341.43 L495.00,341.87 L495.50,342.29 L496.00,342.71 L496.50,343.13 L497.00,343.54 L497.50,343.95 L498.00,344.35 L498.50,344.74 L499.00,345.13 L499.50,345.52 L500.00,345.90 L500.50,346.28 L501.00,346.65 L501.50,347.01 L502.00,347.38 L502.50,347.73 L503.00,348.09 L503.50,348.44 L504.00,348.78 L504.50,349.12 L505.00,349.46 L505.50,349.79 L506.00,350.12 L506.50,350.44 L507.00,350.76 L507.50,351.07 L508.00,351.39 L508.50,351.69 L509.00,352.00 L509.50,352.30 L510.00,352.59 L510.50,352.89 L511.00,353.17 L511.50,353.46 L512.00,353.74 L512.50,354.02 L513.00,354.29 L513.50,354.57 L514.00,354.83 L514.50,355.10 L515.00,355.36 L515.50,355.62 L516.00,355.87 L516.50,356.12 L517.00,356.37 L517.50,356.62 L518.00,356.86 L518.50,357.10 L519.00,357.34 L519.50,357.57 L520.00,357.80 L520.50,358.03 L521.00,358.25 L521.50,358.47 L522.00,358.69 L522.50,358.91 L523.00,359.12 L523.50,359.33 L524.00,359.54 L524.50,359.75 L525.00,359.95 L525.50,360.15 L526.00,360.35 L526.50,360.55 L527.00,360.74 L527.50,360.93 L528.00,361.12 L528.50,361.30" stroke="#d42424" stroke-width="2.5" fill="none" stroke-linejoin="round"/>
<rect x="327.30" y="207.70" width="206.30" height="167.30" fill="none" stroke="#111" stroke-width="1.4"/>
<text x="321.3" y="377.80" class="td" text-anchor="end">0.00</text>
<text x="321.3" y="350.25" class="td" text-anchor="end">0.05</text>
<text x="321.3" y="322.70" class="td" text-anchor="end">0.10</text>
<text x="321.3" y="295.15" class="td" text-anchor="end">0.15</text>
<text x="321.3" y="267.60" class="td" text-anchor="end">0.20</text>
<text x="321.3" y="240.05" class="td" text-anchor="end">0.25</text>
<text x="321.3" y="212.50" class="td" text-anchor="end">0.30</text>
<text x="327.30" y="390.2" class="td2" text-anchor="middle">0</text>
<text x="368.30" y="390.2" class="td2" text-anchor="middle">1000</text>
<text x="409.30" y="390.2" class="td2" text-anchor="middle">2000</text>
<text x="450.30" y="390.2" class="td2" text-anchor="middle">3000</text>
<text x="491.30" y="390.2" class="td2" text-anchor="middle">4000</text>
<text x="532.30" y="390.2" class="td2" text-anchor="middle">5000</text>
<text x="430.6" y="406.3" class="tdl" style="font-size:15.4px" text-anchor="middle">Time (Second)</text>
<text transform="translate(293,296) rotate(-90)" class="tdl" text-anchor="middle">ΔG/G<tspan font-size="12">0</tspan></text>
<path d="M336.0,313.6 V369.8 M331.7,363.8 L336.0,370.6 L340.3,363.8" stroke="#000" stroke-width="2.0" fill="none" stroke-linejoin="miter"/>
<path d="M362.2,280.8 V366.2 M357.9,360.2 L362.2,367.0 L366.5,360.2" stroke="#000" stroke-width="2.0" fill="none" stroke-linejoin="miter"/>
<path d="M392.3,249.0 V333.2 M388.0,327.2 L392.3,334.0 L396.6,327.2" stroke="#000" stroke-width="2.0" fill="none" stroke-linejoin="miter"/>
<path d="M424.8,230.6 V297.4 M420.5,291.4 L424.8,298.2 L429.1,291.4" stroke="#000" stroke-width="2.0" fill="none" stroke-linejoin="miter"/>
<text x="328.5" y="312.3" class="tp">5 ppb</text>
<text x="346" y="278" class="tp">10 ppb</text>
<text x="378" y="245.3" class="tp">20 ppb</text>
<text x="409.5" y="223.5" class="tp">40 ppb</text>
<rect x="470.4" y="211.6" width="61.2" height="48.8" fill="#fff" stroke="#888" stroke-width="0.9"/>
<path d="M470.40,260.40v2M489.90,260.40v2M509.40,260.40v2M528.90,260.40v2M470.40,251.60h-2M470.40,231.80h-2M470.40,212.00h-2" stroke="#666" stroke-width="0.8"/>
<path d="M470.60,251.40 L475.00,251.20 L478.00,251.80 L480.50,251.20 L484.00,249.50 L488.00,246.50 L493.00,241.50 L498.00,236.00 L503.00,229.50 L506.50,225.00 L508.60,222.80 L512.00,226.00 L516.00,229.50 L520.00,232.50 L524.00,235.50 L528.00,239.00 L531.40,241.80" stroke="#d43030" stroke-width="0.9" fill="none"/>
<text x="468.2" y="214.6" class="ti" text-anchor="end">0.04</text>
<text x="468.2" y="254.4" class="ti" text-anchor="end">0.00</text>
<text x="470.40" y="267.4" class="ti" text-anchor="middle">0</text>
<text x="489.90" y="267.4" class="ti" text-anchor="middle">250</text>
<text x="509.40" y="267.4" class="ti" text-anchor="middle">500</text>
<text x="528.90" y="267.4" class="ti" text-anchor="middle">750</text>
<text x="500.5" y="274.8" class="ti" text-anchor="middle">Time (Second)</text>
<text transform="translate(466.2,233) rotate(-90)" class="ti" text-anchor="middle">ΔG/G0</text>
<text x="480.2" y="228.2" class="ti" style="font-size:8.6px" text-anchor="middle">ON</text>
<text x="509.2" y="255" class="ti" style="font-size:8.6px" text-anchor="middle">OFF</text>
<path d="M480.2,231.8 V248.4 M477.6,245.0 L480.2,249.2 L482.8,245.0" stroke="#000" stroke-width="1.1" fill="none" stroke-linejoin="miter"/>
<path d="M509.2,243.5 V227.6 M506.6,231.0 L509.2,226.8 L511.8,231.0" stroke="#000" stroke-width="1.1" fill="none" stroke-linejoin="miter"/>
</svg>
</body></html>
